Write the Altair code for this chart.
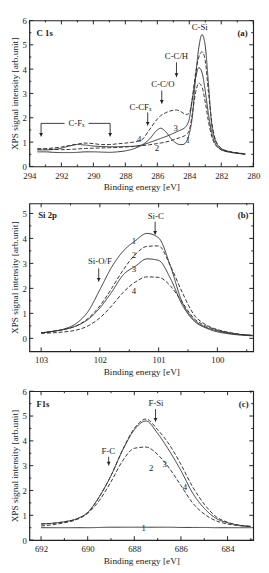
import altair as alt
import pandas as pd

FONT = "Liberation Serif"
INK = "#222222"
LINE = "#333333"
W = 230

# ---------------- (a) C 1s ----------------
a_energy = [293.5, 293.0, 292.5, 292.0, 291.5, 291.0, 290.5, 290.0, 289.5, 289.0,
            288.5, 288.0, 287.5, 287.0, 286.5, 286.0, 285.8, 285.5, 285.2, 285.0,
            284.8, 284.6, 284.4, 284.2, 284.0, 283.8, 283.6, 283.4, 283.2, 283.0,
            282.8, 282.6, 282.4, 282.2, 282.0, 281.5, 281.0, 280.5]
a_s1 = [0.68, 0.68, 0.70, 0.75, 0.84, 0.90, 0.88, 0.84, 0.82, 0.81,
        0.81, 0.82, 0.83, 0.88, 1.12, 1.50, 1.57, 1.45, 1.20, 1.05,
        0.95, 0.90, 0.90, 1.00, 1.35, 2.10, 3.70, 4.90, 5.42, 4.95,
        3.40, 1.75, 1.12, 0.86, 0.74, 0.61, 0.55, 0.51]
a_s2 = [0.72, 0.72, 0.70, 0.69, 0.70, 0.72, 0.74, 0.75, 0.76, 0.77,
        0.78, 0.80, 0.82, 0.85, 0.89, 0.94, 0.96, 1.00, 1.05, 1.10,
        1.14, 1.18, 1.23, 1.30, 1.48, 2.20, 3.05, 3.42, 3.25, 2.65,
        1.85, 1.25, 0.92, 0.77, 0.68, 0.59, 0.55, 0.51]
a_s3 = [0.60, 0.60, 0.58, 0.57, 0.57, 0.58, 0.60, 0.60, 0.59, 0.58,
        0.60, 0.64, 0.72, 0.86, 0.98, 1.10, 1.15, 1.22, 1.30, 1.36,
        1.42, 1.48, 1.54, 1.65, 1.95, 2.80, 3.65, 4.06, 3.85, 3.10,
        2.15, 1.40, 0.98, 0.79, 0.69, 0.59, 0.54, 0.50]
a_s4 = [0.72, 0.73, 0.76, 0.80, 0.86, 0.92, 0.96, 0.94, 0.90, 0.90,
        0.93, 0.96, 1.00, 1.08, 1.50, 1.95, 2.08, 2.20, 2.28, 2.31,
        2.32, 2.28, 2.20, 2.13, 2.20, 2.85, 3.85, 4.50, 4.71, 4.35,
        3.05, 1.85, 1.18, 0.88, 0.74, 0.62, 0.56, 0.52]

# ---------------- (b) Si 2p ----------------
b_energy = [103.0, 102.8, 102.6, 102.4, 102.2, 102.0, 101.8, 101.6, 101.4, 101.2,
            101.0, 100.8, 100.6, 100.4, 100.2, 100.0, 99.8, 99.6, 99.4]
b_s1 = [0.22, 0.28, 0.38, 0.60, 1.08, 1.95, 2.85, 3.50, 3.90, 4.20,
        4.02, 2.90, 1.45, 0.75, 0.45, 0.30, 0.20, 0.15, 0.12]
b_s2 = [0.22, 0.28, 0.36, 0.50, 0.80, 1.30, 2.00, 2.75, 3.35, 3.68,
        3.70, 2.90, 1.85, 0.95, 0.55, 0.35, 0.24, 0.16, 0.12]
b_s3 = [0.22, 0.28, 0.36, 0.50, 0.76, 1.22, 1.85, 2.55, 2.88, 3.18,
        3.12, 2.40, 1.35, 0.70, 0.42, 0.26, 0.18, 0.13, 0.10]
b_s4 = [0.20, 0.22, 0.26, 0.33, 0.50, 0.82, 1.30, 1.85, 2.25, 2.46,
        2.44, 2.10, 1.45, 0.80, 0.50, 0.33, 0.22, 0.15, 0.11]

# ---------------- (c) F 1s ----------------
c_energy = [692.0, 691.5, 691.0, 690.5, 690.0, 689.5, 689.0, 688.5, 688.0, 687.5,
            687.0, 686.5, 686.0, 685.5, 685.0, 684.5, 684.0, 683.5, 683.0]
c_s1 = [0.50, 0.50, 0.50, 0.50, 0.50, 0.51, 0.52, 0.52, 0.52, 0.52,
        0.52, 0.52, 0.51, 0.51, 0.51, 0.50, 0.50, 0.50, 0.50]
c_s2 = [0.65, 0.68, 0.74, 0.84, 1.08, 1.60, 2.35, 3.20, 3.70, 3.75,
        3.45, 2.90, 2.20, 1.50, 1.05, 0.78, 0.65, 0.58, 0.55]
c_s3 = [0.65, 0.68, 0.74, 0.85, 1.12, 1.75, 2.60, 3.62, 4.45, 4.80,
        4.30, 3.60, 2.80, 1.90, 1.28, 0.88, 0.70, 0.60, 0.55]
c_s4 = [0.57, 0.62, 0.70, 0.82, 1.10, 1.75, 2.60, 3.65, 4.50, 4.88,
        4.45, 3.85, 3.05, 2.15, 1.45, 0.95, 0.72, 0.60, 0.55]

# tick values
a_xmaj = [294, 292, 290, 288, 286, 284, 282, 280]
a_xmin = [293, 291, 289, 287, 285, 283, 281]
b_xmaj = [103, 102, 101, 100]
b_xmin = [102.5, 101.5, 100.5, 99.5]
c_xmaj = [692, 690, 688, 686, 684]
c_xmin = [691, 689, 687, 685, 683]
y6_maj = [0, 1, 2, 3, 4, 5, 6]
y6_min = [0.5, 1.5, 2.5, 3.5, 4.5, 5.5]
b_ymaj = [0, 1, 2, 3, 4, 5]
b_ymin = [0.5, 1.5, 2.5, 3.5, 4.5]

# annotations: (x, y, text)
a_notes = [(283.35, 5.72, "C-Si"), (284.8, 4.52, "C-C/H"), (285.65, 3.38, "C-C/O"),
           (287.05, 2.45, "C-CF\u2093"), (291.05, 1.77, "C-F\u2093"),
           (284.08, 1.07, "1"), (286.02, 0.74, "2"), (284.85, 1.58, "3"), (287.13, 1.12, "4")]
a_left = [(293.55, 5.5, "C 1s")]
a_right = [(280.35, 5.5, "(a)")]
a_arrows = [(284.8, 4.28, 3.68), (285.72, 3.12, 2.58), (286.6, 2.22, 1.68),
            (293.27, 1.77, 1.23), (288.95, 1.77, 1.23)]
a_segs = [(293.27, 291.8, 1.77), (290.3, 288.95, 1.77)]

b_notes = [(101.05, 4.9, "Si-C"), (102.0, 3.1, "Si-O/F"),
           (101.42, 3.89, "1"), (101.42, 3.32, "2"), (101.42, 2.79, "3"), (101.42, 1.88, "4")]
b_left = [(103.05, 4.92, "Si 2p")]
b_right = [(99.47, 4.92, "(b)")]
b_arrows = [(101.06, 4.67, 4.15), (102.02, 2.8, 2.27)]
b_segs = []

c_notes = [(687.07, 5.52, "F-Si"), (689.12, 3.6, "F-C"),
           (687.6, 0.48, "1"), (687.28, 2.91, "2"), (686.7, 3.08, "3"), (685.83, 2.14, "4")]
c_left = [(692.2, 5.48, "F1s")]
c_right = [(683.1, 5.48, "(c)")]
c_arrows = [(687.09, 5.28, 4.77), (689.1, 3.36, 3.01)]
c_segs = []


def make_panel(energy, series, xdom, ydom, xmaj, xmin, ymaj, ymin, H,
               notes, left, right, arrows, segs):
    rows = []
    for name, vals in series:
        for e, v in zip(energy, vals):
            rows.append({"e": e, "v": v, "s": name})
    df = pd.DataFrame(rows)

    def X(field):
        return alt.X(field, scale=alt.Scale(domain=xdom, reverse=True, nice=False, zero=False),
                     axis=alt.Axis(values=xmaj, ticks=False, domain=False, grid=False,
                                   format="d", labelFlush=False, labelPadding=5,
                                   title="Binding energy [eV]", titlePadding=2))

    def Y(field):
        return alt.Y(field, scale=alt.Scale(domain=ydom, nice=False, zero=False),
                     axis=alt.Axis(values=ymaj, ticks=False, domain=False, grid=False,
                                   format="d", labelPadding=3,
                                   title="XPS signal intensity [arb.unit]", titlePadding=3))

    lines = alt.Chart(df).mark_line(interpolate="monotone", color=LINE,
                                    strokeWidth=1, clip=True).encode(
        x=X("e:Q"), y=Y("v:Q"),
        strokeDash=alt.StrokeDash("s:N", scale=alt.Scale(domain=["1", "2", "3", "4"],
                                  range=[[1, 0], [4, 2], [1, 0], [4, 2]]), legend=None),
        detail="s:N",
    )
    layers = [lines]

    def xt(vals, length):
        d = pd.DataFrame({"e": vals})
        bot = alt.Chart(d).mark_rule(color=INK, strokeWidth=1).encode(
            x=X("e:Q"), y=alt.value(H), y2=alt.value(H - length))
        top = alt.Chart(d).mark_rule(color=INK, strokeWidth=1).encode(
            x=X("e:Q"), y=alt.value(0), y2=alt.value(length))
        return [bot, top]

    def yt(vals, length):
        d = pd.DataFrame({"v": vals})
        lft = alt.Chart(d).mark_rule(color=INK, strokeWidth=1).encode(
            y=Y("v:Q"), x=alt.value(0), x2=alt.value(length))
        rgt = alt.Chart(d).mark_rule(color=INK, strokeWidth=1).encode(
            y=Y("v:Q"), x=alt.value(W), x2=alt.value(W - length))
        return [lft, rgt]

    layers += xt(xmaj, 4) + xt(xmin, 2) + yt(ymaj, 4) + yt(ymin, 2)

    def texts(items, align, weight):
        d = pd.DataFrame(items, columns=["e", "v", "label"])
        return alt.Chart(d).mark_text(font=FONT, fontSize=9, color=INK, fill=INK,
                                      align=align, baseline="middle",
                                      fontWeight=weight).encode(
            x=X("e:Q"), y=Y("v:Q"), text="label:N")

    layers.append(texts(notes, "center", "normal"))
    layers.append(texts(left, "left", "bold"))
    layers.append(texts(right, "right", "bold"))

    if arrows:
        d = pd.DataFrame(arrows, columns=["e", "v", "v2"])
        layers.append(alt.Chart(d).mark_rule(color=INK, strokeWidth=0.9).encode(
            x=X("e:Q"), y=Y("v:Q"), y2="v2:Q"))
        d2 = pd.DataFrame({"e": [r[0] for r in arrows], "v": [r[2] for r in arrows]})
        layers.append(alt.Chart(d2).mark_point(shape="triangle-down", filled=True,
                                               color=INK, size=16, opacity=1,
                                               yOffset=-2).encode(
            x=X("e:Q"), y=Y("v:Q")))
    if segs:
        d = pd.DataFrame(segs, columns=["e", "e2", "v"])
        layers.append(alt.Chart(d).mark_rule(color=INK, strokeWidth=0.9).encode(
            x=X("e:Q"), x2="e2:Q", y=Y("v:Q")))

    return alt.layer(*layers).properties(width=W, height=H)


pa = make_panel(a_energy, [("1", a_s1), ("2", a_s2), ("3", a_s3), ("4", a_s4)],
                [280, 294], [0, 6], a_xmaj, a_xmin, y6_maj, y6_min, 150,
                a_notes, a_left, a_right, a_arrows, a_segs)
pb = make_panel(b_energy, [("1", b_s1), ("2", b_s2), ("3", b_s3), ("4", b_s4)],
                [99.39, 103.2], [-0.52, 5.4], b_xmaj, b_xmin, b_ymaj, b_ymin, 152,
                b_notes, b_left, b_right, b_arrows, b_segs)
pc = make_panel(c_energy, [("1", c_s1), ("2", c_s2), ("3", c_s3), ("4", c_s4)],
                [682.9, 692.5], [0, 6], c_xmaj, c_xmin, y6_maj, y6_min, 153,
                c_notes, c_left, c_right, c_arrows, c_segs)

chart = alt.vconcat(pa, pb, pc, spacing=9).properties(
    padding={"left": 0, "top": 0, "right": 0, "bottom": 0}
).configure_view(stroke=INK, strokeWidth=1.2).configure_axis(
    labelFont=FONT, titleFont=FONT, labelColor=INK, titleColor=INK,
    labelFontSize=9, titleFontSize=9.5, titleFontWeight="normal"
)

chart.save("out.html", embed_options={"renderer": "svg", "actions": False})
